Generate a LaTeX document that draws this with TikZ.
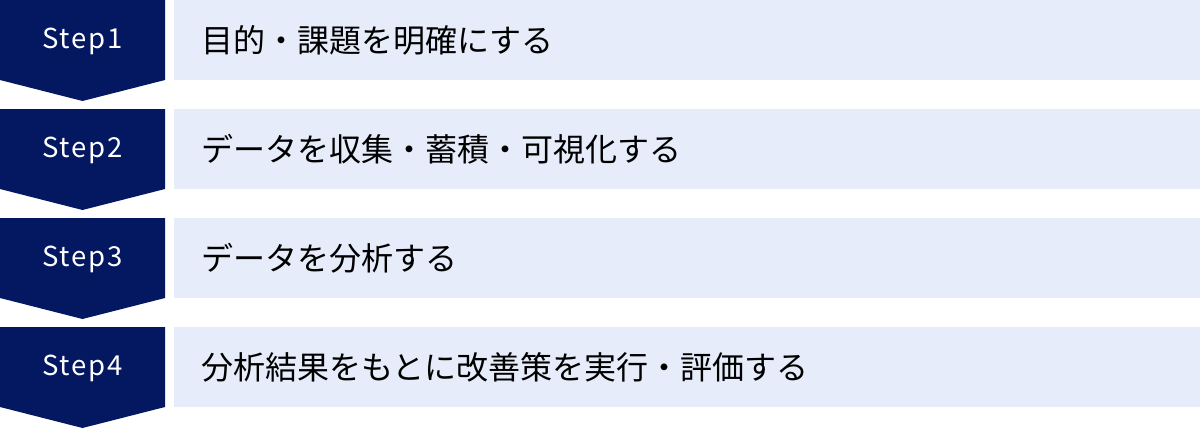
\documentclass[tikz,border=0pt]{standalone}
\usepackage{fontspec}
\newfontfamily\jpfont{Noto Sans CJK JP}
\definecolor{navy}{HTML}{041862}
\definecolor{pale}{HTML}{E6ECF9}
\begin{document}
\begin{tikzpicture}[x=1pt,y=-1pt,
  stepshape/.style={fill=navy,draw=none},
  boxshape/.style={fill=pale,draw=none},
  steplabel/.style={text=white,font=\jpfont\fontsize{27.5}{32}\selectfont,inner sep=0pt,anchor=center},
  boxlabel/.style={text=black,font=\jpfont\fontsize{32}{40}\selectfont,inner sep=0pt,anchor=west}]
\useasboundingbox (0,0) rectangle (1200,429);
\foreach \i/\txt in {0/目的・課題を明確にする,1/データを収集・蓄積・可視化する,2/データを分析する,3/分析結果をもとに改善策を実行・評価する}{
  \pgfmathsetmacro{\t}{109*\i}
  \fill[stepshape] (0,\t) -- (165,\t) -- (165,\t+80) -- (82.5,\t+101) -- (0,\t+80) -- cycle;
  \fill[boxshape] (174,\t) rectangle (1200,\t+80);
  \pgfmathtruncatemacro{\n}{\i+1}
  \node[steplabel] (s\n) at (82.5,\t+41) {\addfontfeature{LetterSpace=7}Step\n};
  \node[boxlabel] (b\n) at (201,\t+40) {\txt};
}
\end{tikzpicture}
\end{document}
